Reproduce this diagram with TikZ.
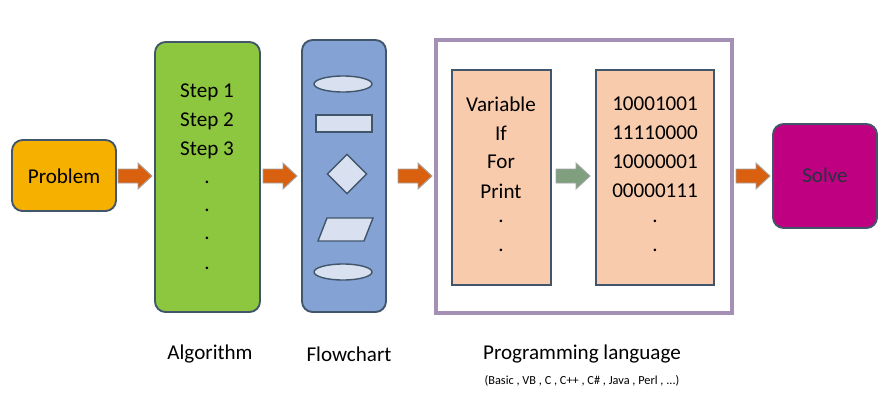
\documentclass[tikz,border=0pt]{standalone}
\usepackage{fontspec}
\setmainfont{Carlito}
\usetikzlibrary{shapes.geometric}
\definecolor{edge}{HTML}{41556B}
\definecolor{probc}{HTML}{F5B000}
\definecolor{algc}{HTML}{8DC63F}
\definecolor{flowc}{HTML}{84A2D4}
\definecolor{symc}{HTML}{D9E1F0}
\definecolor{peach}{HTML}{F8CBAD}
\definecolor{frame}{HTML}{A490B4}
\definecolor{arrc}{HTML}{D8600E}
\definecolor{garr}{HTML}{7F9F7F}
\definecolor{solvec}{HTML}{BF0080}
\newcommand{\blockarrow}[3][arrc]{% fill, left x, centre y
  \draw[draw=gray!70,line width=0.8pt,fill=#1]
    (#2,#3-7) -- ++(20,0) -- ++(0,-6) -- ++(14,13) -- ++(-14,13) -- ++(0,-6) -- ++(-20,0) -- cycle;}
\begin{document}
\begin{tikzpicture}[x=0.03cm,y=-0.03cm,
  box/.style={draw=edge,line width=1.6pt,rounded corners=9pt},
  sym/.style={draw=edge,line width=1.2pt,fill=symc},
  txt/.style={font=\fontsize{18}{21}\selectfont,align=center}]
  \fill[white] (0,0) rectangle (889,407);
  % boxes
  \draw[box,fill=probc] (12,140) rectangle (116,211);
  \node[txt] (prob) at (64,176) {Problem};
  \draw[box,fill=algc] (155,42) rectangle (260,312);
  \draw[box,fill=flowc] (302,40) rectangle (386,312);
  \draw[frame,line width=3.2pt] (436,40) rectangle (732,313);
  \draw[draw=edge,line width=1.6pt,fill=peach] (452,70) rectangle (551,285);
  \draw[draw=edge,line width=1.6pt,fill=peach] (596,70) rectangle (714,285);
  \draw[box,fill=solvec] (773,124) rectangle (877,228);
  \node[txt,text=edge!60!black] (solve) at (825,175) {Solve};
  % algorithm text
  \foreach \t/\y in {Step 1/92,Step 2/121,Step 3/150,./182,./210,./238,./268}
    \node[txt] at (207,\y) {\t};
  % flowchart symbols
  \node[sym,ellipse,minimum width=58*0.03cm,minimum height=16*0.03cm,inner sep=0pt] (s1) at (343,84) {};
  \draw[sym] (316,115) rectangle (372,132);
  \node[sym,diamond,minimum width=40*0.03cm,minimum height=40*0.03cm,inner sep=0pt] (s3) at (347,174) {};
  \draw[sym] (327,218) -- (373,218) -- (364,241) -- (318,241) -- cycle;
  \node[sym,ellipse,minimum width=58*0.03cm,minimum height=16*0.03cm,inner sep=0pt] (s5) at (343,272) {};
  % language text
  \foreach \t/\y in {Variable/104,If/133,For/162,Print/191,./221,./250}
    \node[txt] at (501,\y) {\t};
  \foreach \t/\y in {10001001/104,11110000/133,10000001/162,00000111/191,./221,./250}
    \node[txt] at (655,\y) {\t};
  % block arrows
  \blockarrow{118}{176}
  \blockarrow{263}{176}
  \blockarrow{398}{176}
  \blockarrow[garr]{556}{176}
  \blockarrow{736}{176}
  % labels
  \node[txt] (l1) at (210,354) {Algorithm};
  \node[txt] (l2) at (349,354) {Flowchart};
  \node[txt] (l3) at (582,354) {Programming language};
  \node[font=\fontsize{10.5}{12}\selectfont] (l4) at (582,381) {(Basic , VB , C , C++ , C\# , Java , Perl , ...)};
\end{tikzpicture}
\end{document}
